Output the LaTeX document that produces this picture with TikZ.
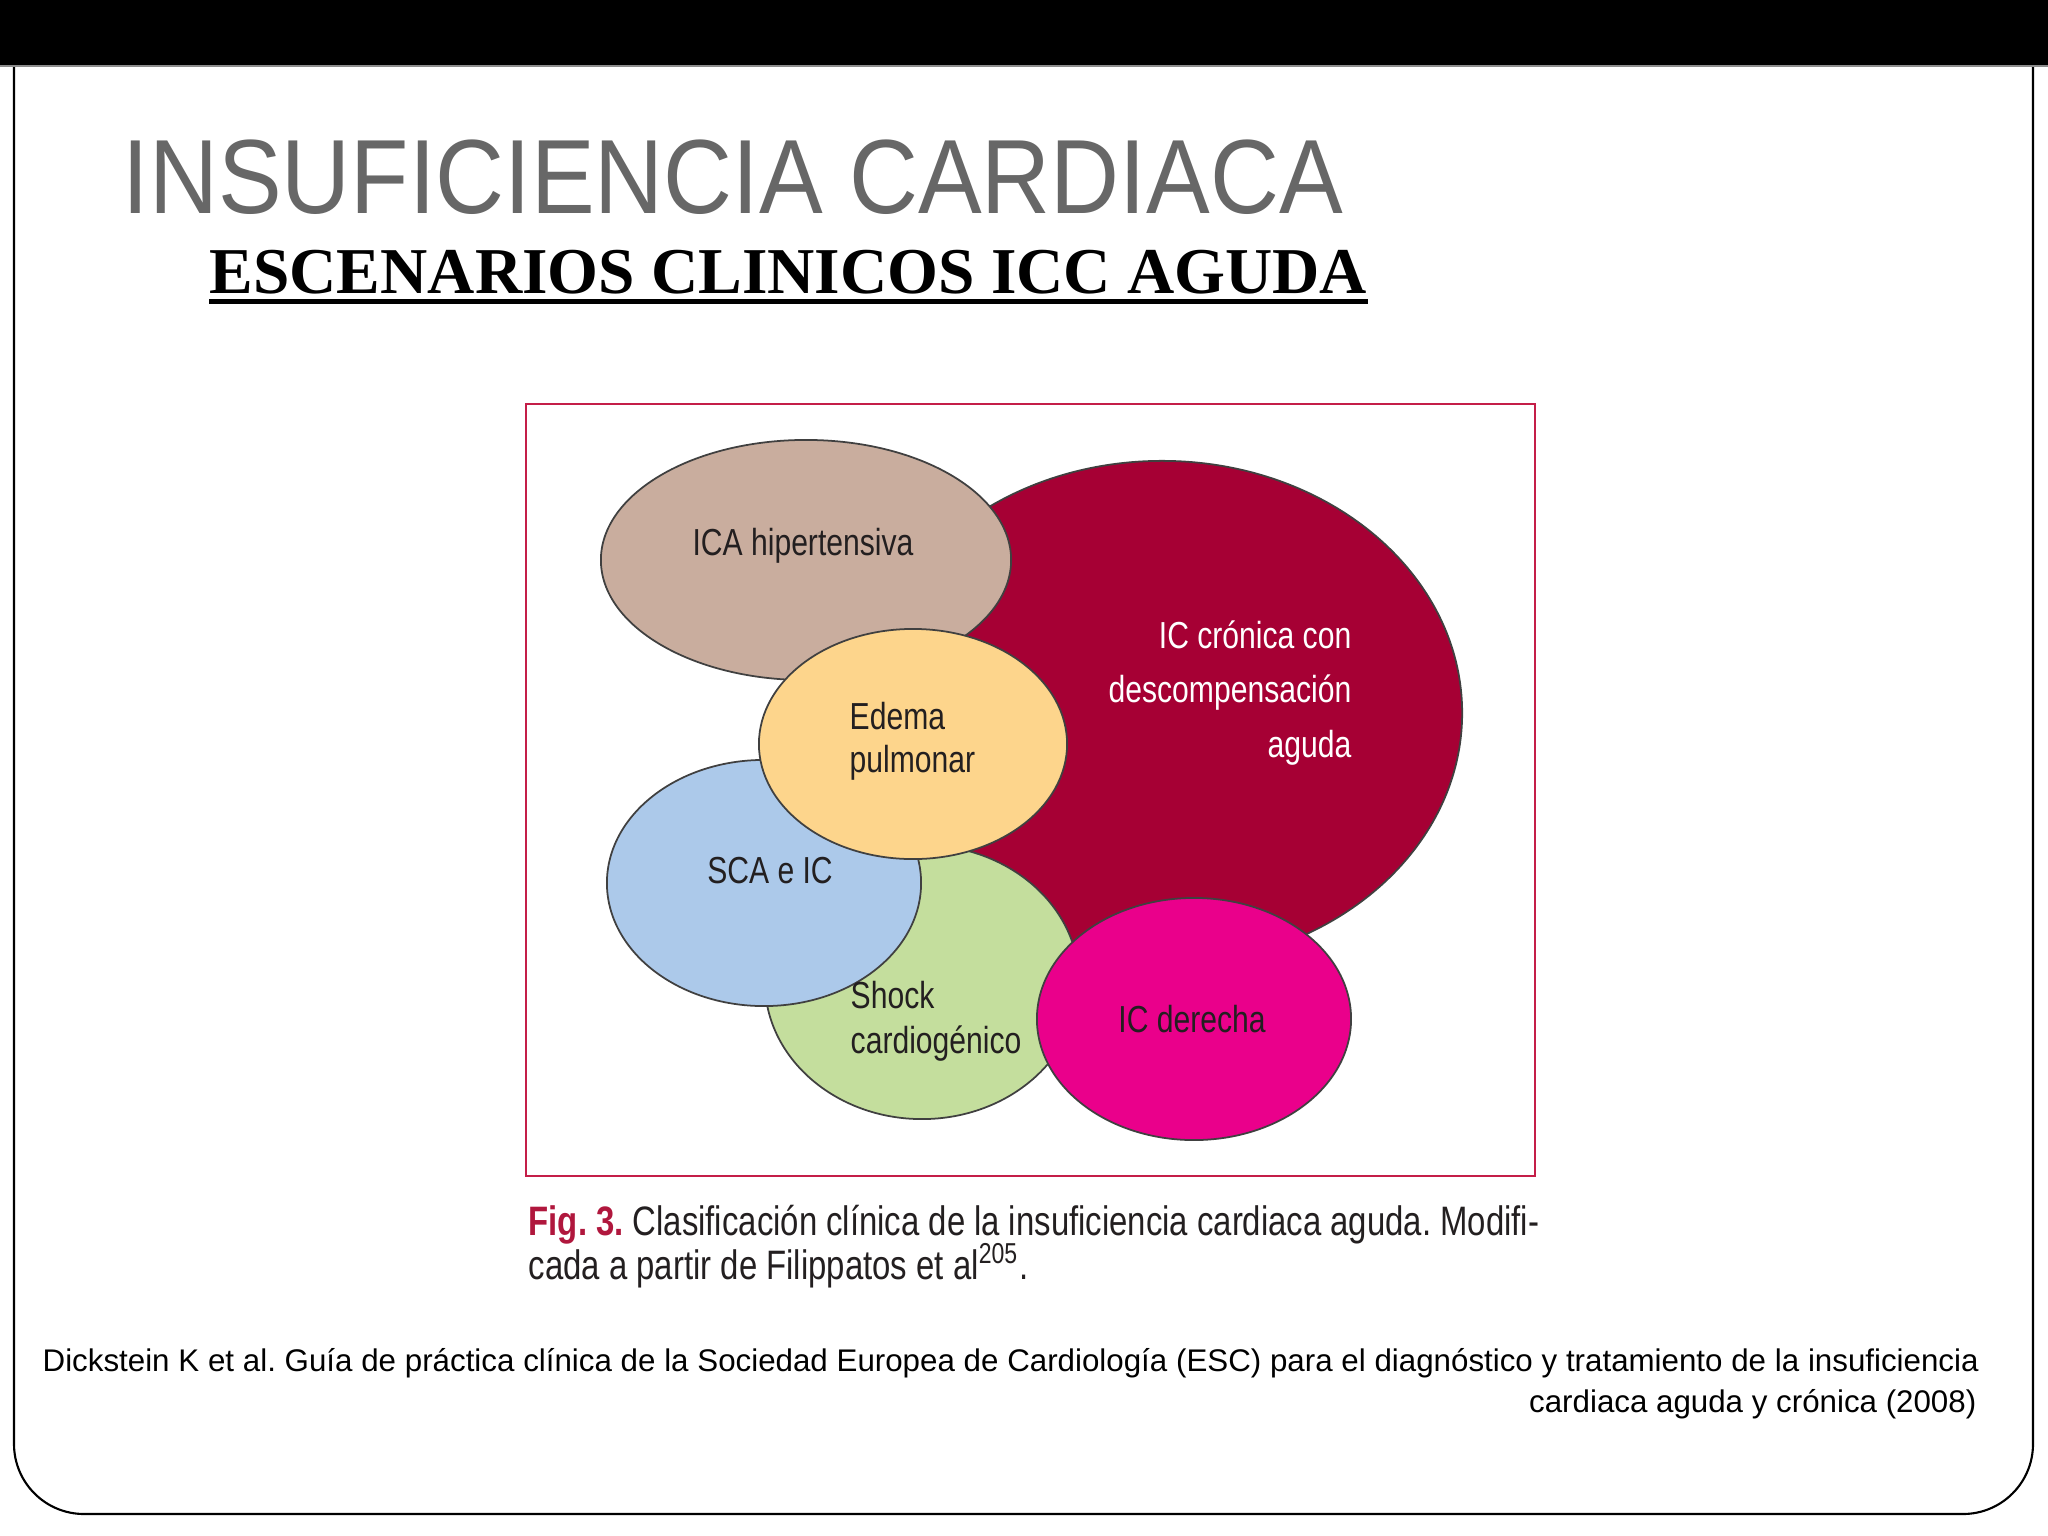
\documentclass[tikz,border=0pt]{standalone}
\usepackage{fontspec}
\setmainfont{Liberation Sans}
\newfontfamily\titlefont[FakeStretch=0.905]{Liberation Sans}
\newfontfamily\subtitlefont{Liberation Serif}
\newfontfamily\figfont[FakeStretch=0.8]{Liberation Sans}
\frenchspacing

\definecolor{titlegray}{RGB}{103,103,103}
\definecolor{ink}{RGB}{35,31,32}
\definecolor{boxred}{RGB}{196,30,72}
\definecolor{figred}{RGB}{176,23,61}
\definecolor{cronico}{RGB}{166,0,52}
\definecolor{hiper}{RGB}{201,173,158}
\definecolor{edema}{RGB}{253,213,140}
\definecolor{sca}{RGB}{172,201,234}
\definecolor{shock}{RGB}{196,222,157}
\definecolor{derecha}{RGB}{234,0,139}

\begin{document}
\begin{tikzpicture}[
    x=0.01cm, y=-0.01cm,
    outline/.style={draw=black!75, line width=0.5pt},
    bubble/.style={text=ink, font=\figfont\fontsize{10.7}{12.3}\selectfont},
    every node/.style={inner sep=0pt}
]
    \useasboundingbox (0,0) rectangle (2048,1536);

    % Slide frame and top bar
    \draw[line width=0.6pt, rounded corners=0.7cm] (14,60) -- (14,1514) -- (2033,1514) -- (2033,60);
    \fill (0,0) rectangle (2048,65);
    \draw[black!45, line width=0.6pt] (0,66) -- (2048,66);

    % Titles
    \node[anchor=base west, text=titlegray, font=\titlefont\fontsize{30}{36}\selectfont] (title) at (122,213) {INSUFICIENCIA CARDIACA};
    \node[anchor=base west, font=\subtitlefont\bfseries\fontsize{18.6}{22}\selectfont] (subtitle) at (209,293) {ESCENARIOS CLINICOS ICC AGUDA};
    \draw[line width=1.4pt] ([yshift=-2.3pt]subtitle.base west) -- ([yshift=-2.3pt]subtitle.base east);

    % Figure box
    \draw[boxred, line width=0.7pt] (526,404) rectangle (1535,1176);

    % Bubbles, back to front
    \filldraw[outline, fill=cronico] (1162,713) ellipse [x radius=3cm, y radius=2.52cm];
    \filldraw[outline, fill=hiper] (806,560) ellipse [x radius=2.05cm, y radius=1.2cm];
    \filldraw[outline, fill=shock] (922,982) ellipse [x radius=1.57cm, y radius=1.37cm];
    \filldraw[outline, fill=sca] (764,883) ellipse [x radius=1.57cm, y radius=1.23cm];
    \filldraw[outline, fill=edema] (913,744) ellipse [x radius=1.54cm, y radius=1.15cm];
    \filldraw[outline, fill=derecha] (1194,1019) ellipse [x radius=1.57cm, y radius=1.21cm];

    % Bubble labels
    \node[bubble, anchor=base] (hiperlbl) at (803,555) {ICA hipertensiva};
    \node[bubble, text=white, align=right, anchor=east, font=\figfont\fontsize{10.7}{15.5}\selectfont] (cronicolbl) at (1352,693) {IC crónica con\\descompensación\\aguda};
    \node[bubble, align=left, anchor=west] (edemalbl) at (849,741) {Edema\\pulmonar};
    \node[bubble, anchor=base] (scalbl) at (770,883) {SCA e IC};
    \node[bubble, align=left, anchor=west, font=\figfont\fontsize{10.7}{12.8}\selectfont] (shocklbl) at (850,1021) {Shock\\cardiogénico};
    \node[bubble, anchor=base] (derechalbl) at (1192,1032) {IC derecha};

    % Caption
    \node[anchor=base west, text=ink, font=\figfont\fontsize{11.7}{13}\selectfont] (cap1) at (528,1235)
        {\makebox[10.1cm][s]{\textcolor{figred}{\bfseries Fig. 3.} Clasificación clínica de la insuficiencia cardiaca aguda. Modifi-}};
    \node[anchor=base west, text=ink, font=\figfont\fontsize{11.7}{13}\selectfont] (cap2) at (528,1279)
        {cada a partir de Filippatos et al\textsuperscript{205}.};

    % Reference
    \node[anchor=base west, font=\fontsize{8.9}{11.7}\selectfont] (ref1) at (42,1371)
        {\makebox[19.35cm][s]{Dickstein K et al. Guía de práctica clínica de la Sociedad Europea de Cardiología (ESC) para el diagnóstico y tratamiento de la insuficiencia}};
    \node[anchor=base east, font=\fontsize{8.9}{11.7}\selectfont] (ref2) at (1977,1412) {cardiaca aguda y crónica (2008)};

\end{tikzpicture}
\end{document}
